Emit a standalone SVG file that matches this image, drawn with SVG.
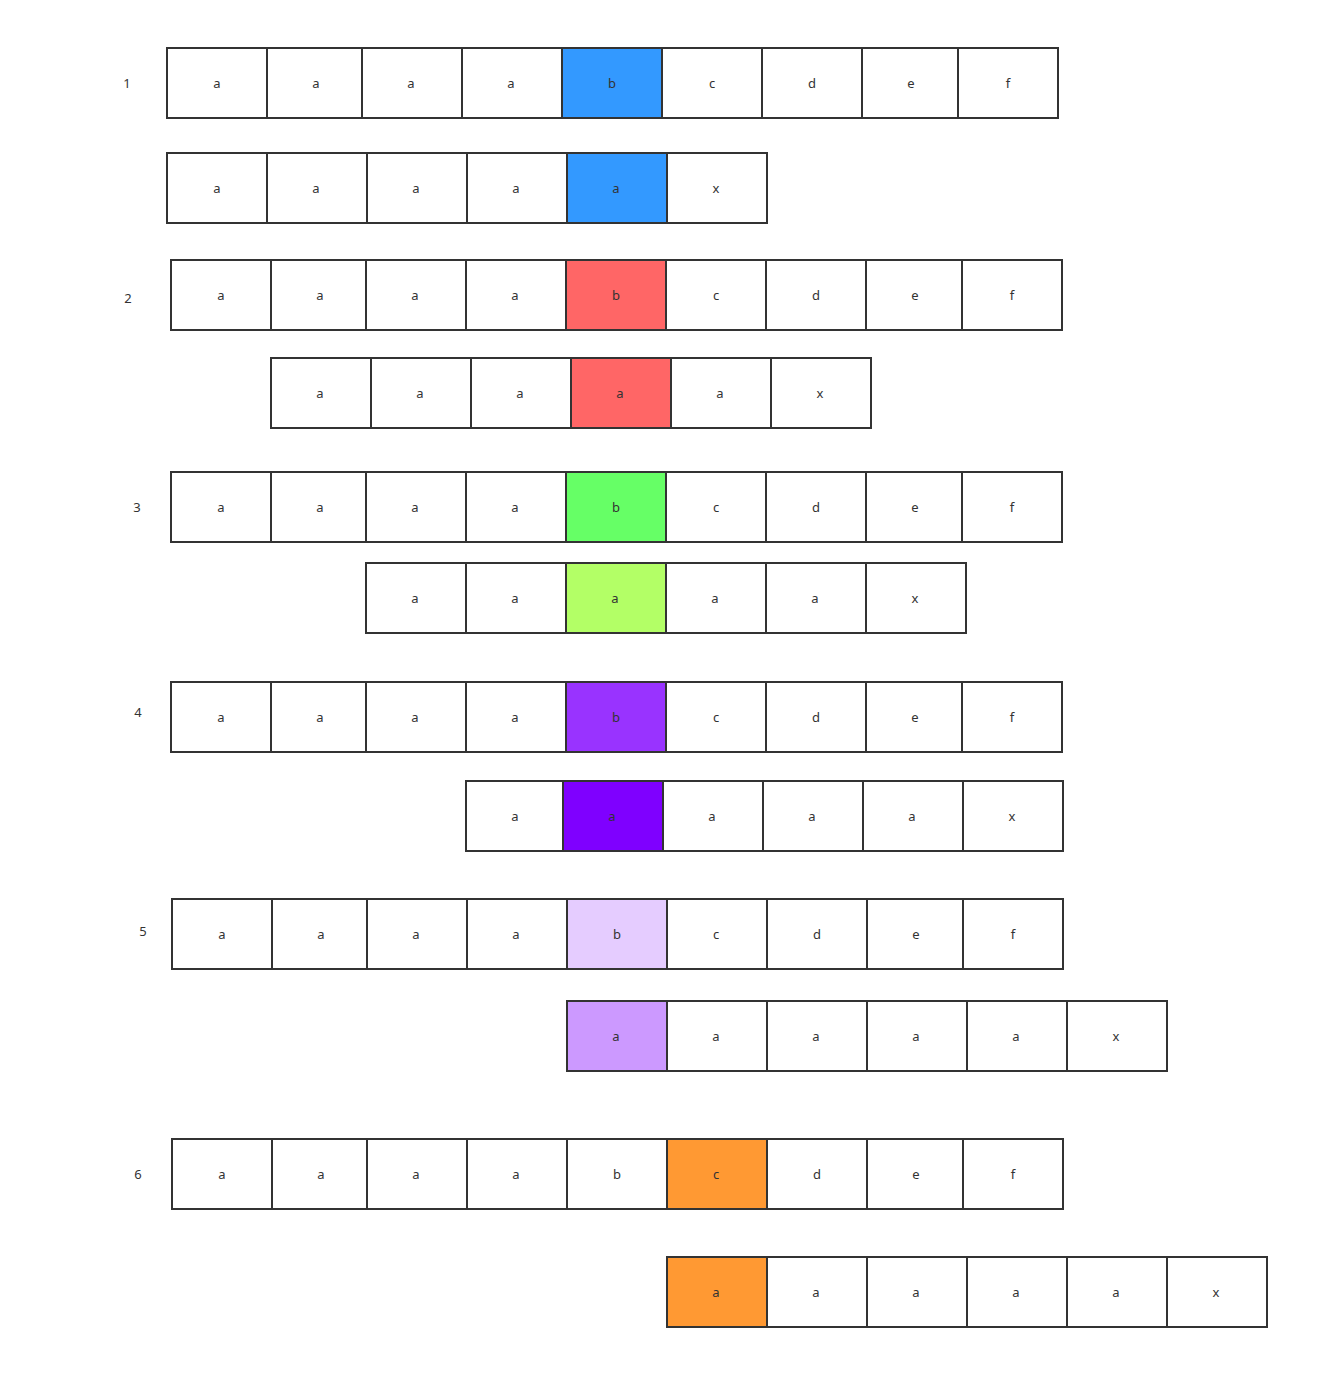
<svg xmlns="http://www.w3.org/2000/svg" width="1328" height="1388" viewBox="0 0 1328 1388">
<style>
.c{stroke:#333;stroke-width:2;fill:#fff}
text{font-family:"Noto Sans","Open Sans",sans-serif;font-size:13px;fill:#333;text-anchor:middle;dominant-baseline:central}
.n{font-size:13px}
</style>
<rect width="1328" height="1388" fill="#fff"/>
<g id="labels">
<text class="n" x="127" y="83">1</text>
<text class="n" x="128" y="298">2</text>
<text class="n" x="137" y="507">3</text>
<text class="n" x="138" y="712">4</text>
<text class="n" x="143" y="931">5</text>
<text class="n" x="138" y="1174">6</text>
</g>
<g id="row1">
<rect class="c" x="167" y="48" width="100" height="70"/><text x="217" y="83">a</text>
<rect class="c" x="267" y="48" width="95" height="70"/><text x="316" y="83">a</text>
<rect class="c" x="362" y="48" width="100" height="70"/><text x="411" y="83">a</text>
<rect class="c" x="462" y="48" width="100" height="70"/><text x="511" y="83">a</text>
<rect class="c" x="562" y="48" width="100" height="70" style="fill:#3399FF"/><text x="612" y="83">b</text>
<rect class="c" x="662" y="48" width="100" height="70"/><text x="712" y="83">c</text>
<rect class="c" x="762" y="48" width="100" height="70"/><text x="812" y="83">d</text>
<rect class="c" x="862" y="48" width="96" height="70"/><text x="911" y="83">e</text>
<rect class="c" x="958" y="48" width="100" height="70"/><text x="1008" y="83">f</text>
</g>
<g id="row1b">
<rect class="c" x="167" y="153" width="100" height="70"/><text x="217" y="188">a</text>
<rect class="c" x="267" y="153" width="100" height="70"/><text x="316" y="188">a</text>
<rect class="c" x="367" y="153" width="100" height="70"/><text x="416" y="188">a</text>
<rect class="c" x="467" y="153" width="100" height="70"/><text x="516" y="188">a</text>
<rect class="c" x="567" y="153" width="100" height="70" style="fill:#3399FF"/><text x="616" y="188">a</text>
<rect class="c" x="667" y="153" width="100" height="70"/><text x="716" y="188">x</text>
</g>
<g id="row2">
<rect class="c" x="171" y="260" width="100" height="70"/><text x="221" y="295">a</text>
<rect class="c" x="271" y="260" width="95" height="70"/><text x="320" y="295">a</text>
<rect class="c" x="366" y="260" width="100" height="70"/><text x="415" y="295">a</text>
<rect class="c" x="466" y="260" width="100" height="70"/><text x="515" y="295">a</text>
<rect class="c" x="566" y="260" width="100" height="70" style="fill:#FF6666"/><text x="616" y="295">b</text>
<rect class="c" x="666" y="260" width="100" height="70"/><text x="716" y="295">c</text>
<rect class="c" x="766" y="260" width="100" height="70"/><text x="816" y="295">d</text>
<rect class="c" x="866" y="260" width="96" height="70"/><text x="915" y="295">e</text>
<rect class="c" x="962" y="260" width="100" height="70"/><text x="1012" y="295">f</text>
</g>
<g id="row2b">
<rect class="c" x="271" y="358" width="100" height="70"/><text x="320" y="393">a</text>
<rect class="c" x="371" y="358" width="100" height="70"/><text x="420" y="393">a</text>
<rect class="c" x="471" y="358" width="100" height="70"/><text x="520" y="393">a</text>
<rect class="c" x="571" y="358" width="100" height="70" style="fill:#FF6666"/><text x="620" y="393">a</text>
<rect class="c" x="671" y="358" width="100" height="70"/><text x="720" y="393">a</text>
<rect class="c" x="771" y="358" width="100" height="70"/><text x="820" y="393">x</text>
</g>
<g id="row3">
<rect class="c" x="171" y="472" width="100" height="70"/><text x="221" y="507">a</text>
<rect class="c" x="271" y="472" width="95" height="70"/><text x="320" y="507">a</text>
<rect class="c" x="366" y="472" width="100" height="70"/><text x="415" y="507">a</text>
<rect class="c" x="466" y="472" width="100" height="70"/><text x="515" y="507">a</text>
<rect class="c" x="566" y="472" width="100" height="70" style="fill:#66FF66"/><text x="616" y="507">b</text>
<rect class="c" x="666" y="472" width="100" height="70"/><text x="716" y="507">c</text>
<rect class="c" x="766" y="472" width="100" height="70"/><text x="816" y="507">d</text>
<rect class="c" x="866" y="472" width="96" height="70"/><text x="915" y="507">e</text>
<rect class="c" x="962" y="472" width="100" height="70"/><text x="1012" y="507">f</text>
</g>
<g id="row3b">
<rect class="c" x="366" y="563" width="100" height="70"/><text x="415" y="598">a</text>
<rect class="c" x="466" y="563" width="100" height="70"/><text x="515" y="598">a</text>
<rect class="c" x="566" y="563" width="100" height="70" style="fill:#B3FF66"/><text x="615" y="598">a</text>
<rect class="c" x="666" y="563" width="100" height="70"/><text x="715" y="598">a</text>
<rect class="c" x="766" y="563" width="100" height="70"/><text x="815" y="598">a</text>
<rect class="c" x="866" y="563" width="100" height="70"/><text x="915" y="598">x</text>
</g>
<g id="row4">
<rect class="c" x="171" y="682" width="100" height="70"/><text x="221" y="717">a</text>
<rect class="c" x="271" y="682" width="95" height="70"/><text x="320" y="717">a</text>
<rect class="c" x="366" y="682" width="100" height="70"/><text x="415" y="717">a</text>
<rect class="c" x="466" y="682" width="100" height="70"/><text x="515" y="717">a</text>
<rect class="c" x="566" y="682" width="100" height="70" style="fill:#9933FF"/><text x="616" y="717">b</text>
<rect class="c" x="666" y="682" width="100" height="70"/><text x="716" y="717">c</text>
<rect class="c" x="766" y="682" width="100" height="70"/><text x="816" y="717">d</text>
<rect class="c" x="866" y="682" width="96" height="70"/><text x="915" y="717">e</text>
<rect class="c" x="962" y="682" width="100" height="70"/><text x="1012" y="717">f</text>
</g>
<g id="row4b">
<rect class="c" x="466" y="781" width="97" height="70"/><text x="515" y="816">a</text>
<rect class="c" x="563" y="781" width="100" height="70" style="fill:#7F00FF"/><text x="612" y="816">a</text>
<rect class="c" x="663" y="781" width="100" height="70"/><text x="712" y="816">a</text>
<rect class="c" x="763" y="781" width="100" height="70"/><text x="812" y="816">a</text>
<rect class="c" x="863" y="781" width="100" height="70"/><text x="912" y="816">a</text>
<rect class="c" x="963" y="781" width="100" height="70"/><text x="1012" y="816">x</text>
</g>
<g id="row5">
<rect class="c" x="172" y="899" width="100" height="70"/><text x="222" y="934">a</text>
<rect class="c" x="272" y="899" width="95" height="70"/><text x="321" y="934">a</text>
<rect class="c" x="367" y="899" width="100" height="70"/><text x="416" y="934">a</text>
<rect class="c" x="467" y="899" width="100" height="70"/><text x="516" y="934">a</text>
<rect class="c" x="567" y="899" width="100" height="70" style="fill:#E5CCFF"/><text x="617" y="934">b</text>
<rect class="c" x="667" y="899" width="100" height="70"/><text x="716" y="934">c</text>
<rect class="c" x="767" y="899" width="100" height="70"/><text x="817" y="934">d</text>
<rect class="c" x="867" y="899" width="96" height="70"/><text x="916" y="934">e</text>
<rect class="c" x="963" y="899" width="100" height="70"/><text x="1013" y="934">f</text>
</g>
<g id="row5b">
<rect class="c" x="567" y="1001" width="100" height="70" style="fill:#CC99FF"/><text x="616" y="1036">a</text>
<rect class="c" x="667" y="1001" width="100" height="70"/><text x="716" y="1036">a</text>
<rect class="c" x="767" y="1001" width="100" height="70"/><text x="816" y="1036">a</text>
<rect class="c" x="867" y="1001" width="100" height="70"/><text x="916" y="1036">a</text>
<rect class="c" x="967" y="1001" width="100" height="70"/><text x="1016" y="1036">a</text>
<rect class="c" x="1067" y="1001" width="100" height="70"/><text x="1116" y="1036">x</text>
</g>
<g id="row6">
<rect class="c" x="172" y="1139" width="100" height="70"/><text x="222" y="1174">a</text>
<rect class="c" x="272" y="1139" width="95" height="70"/><text x="321" y="1174">a</text>
<rect class="c" x="367" y="1139" width="100" height="70"/><text x="416" y="1174">a</text>
<rect class="c" x="467" y="1139" width="100" height="70"/><text x="516" y="1174">a</text>
<rect class="c" x="567" y="1139" width="100" height="70"/><text x="617" y="1174">b</text>
<rect class="c" x="667" y="1139" width="100" height="70" style="fill:#FF9933"/><text x="716" y="1174">c</text>
<rect class="c" x="767" y="1139" width="100" height="70"/><text x="817" y="1174">d</text>
<rect class="c" x="867" y="1139" width="96" height="70"/><text x="916" y="1174">e</text>
<rect class="c" x="963" y="1139" width="100" height="70"/><text x="1013" y="1174">f</text>
</g>
<g id="row6b">
<rect class="c" x="667" y="1257" width="100" height="70" style="fill:#FF9933"/><text x="716" y="1292">a</text>
<rect class="c" x="767" y="1257" width="100" height="70"/><text x="816" y="1292">a</text>
<rect class="c" x="867" y="1257" width="100" height="70"/><text x="916" y="1292">a</text>
<rect class="c" x="967" y="1257" width="100" height="70"/><text x="1016" y="1292">a</text>
<rect class="c" x="1067" y="1257" width="100" height="70"/><text x="1116" y="1292">a</text>
<rect class="c" x="1167" y="1257" width="100" height="70"/><text x="1216" y="1292">x</text>
</g>
<g id="connectors"/>
</svg>
